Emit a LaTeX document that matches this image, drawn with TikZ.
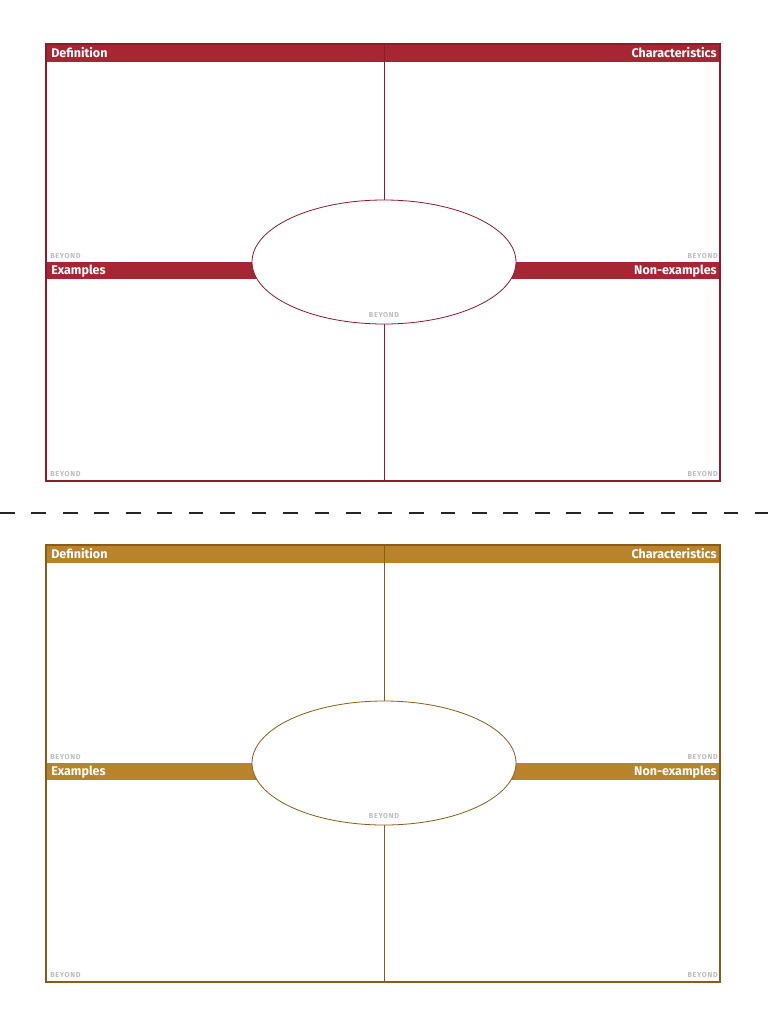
\documentclass[tikz,border=0pt]{standalone}
\usepackage{fontspec}
\setmainfont{Fira Sans}
\usepackage{xcolor}
\usepackage{tikz}
\definecolor{redbar}{HTML}{A62634}
\definecolor{redline}{HTML}{8E1B2A}
\definecolor{goldbar}{HTML}{B8832B}
\definecolor{goldline}{HTML}{8C5C16}
\definecolor{mark}{HTML}{BDBDBD}
\tikzset{
  frame/.style={line width=0.9pt},
  rule/.style={line width=0.6pt},
  head/.style={text=white, font=\fontsize{9.4}{10}\selectfont\bfseries, inner sep=0pt},
  brand/.style={text=mark, font=\fontsize{5.4}{6}\selectfont\bfseries\addfontfeature{LetterSpace=10}, inner sep=0pt},
  cut/.style={draw=black!85, line width=0.8pt, dash pattern=on 11pt off 12.6pt}
}

\begin{document}
\begin{tikzpicture}[x=0.75pt,y=-0.75pt]
  \useasboundingbox[fill=white] (0,0) rectangle (768,1024);
  % two copies of the same organiser, one per colour
  \foreach \oy/\bar/\ln/\id in {0/redbar/redline/a, 501/goldbar/goldline/b}{
    \begin{scope}[yshift=-0.75*\oy pt]
      \fill[\bar] (46,44) rectangle (720,62);
      \fill[\bar] (46,262) rectangle (720,279);
      \draw[\ln, rule] (384,44) -- (384,481);
      \draw[\ln, frame] (46,44) rectangle (720,481);
      \draw[\ln, rule, fill=white] (384,262) ellipse [x radius=132, y radius=62];
      \node[head, anchor=west] (def\id) at (51,53) {Definition};
      \node[head, anchor=east] (cha\id) at (717,53) {Characteristics};
      \node[head, anchor=west] (exa\id) at (51,271) {Examples};
      \node[head, anchor=east] (non\id) at (717,271) {Non-examples};
      \node[brand, anchor=west] (bq1\id) at (50,256) {BEYOND};
      \node[brand, anchor=east] (bq2\id) at (718,256) {BEYOND};
      \node[brand] (bq3\id) at (384,315) {BEYOND};
      \node[brand, anchor=west] (bq4\id) at (50,474) {BEYOND};
      \node[brand, anchor=east] (bq5\id) at (718,474) {BEYOND};
    \end{scope}
  }
  \coordinate (cutl) at (0,513);
  \coordinate (cutr) at (768,513);
  \draw[cut] (cutl) -- (cutr);
\end{tikzpicture}
\end{document}
